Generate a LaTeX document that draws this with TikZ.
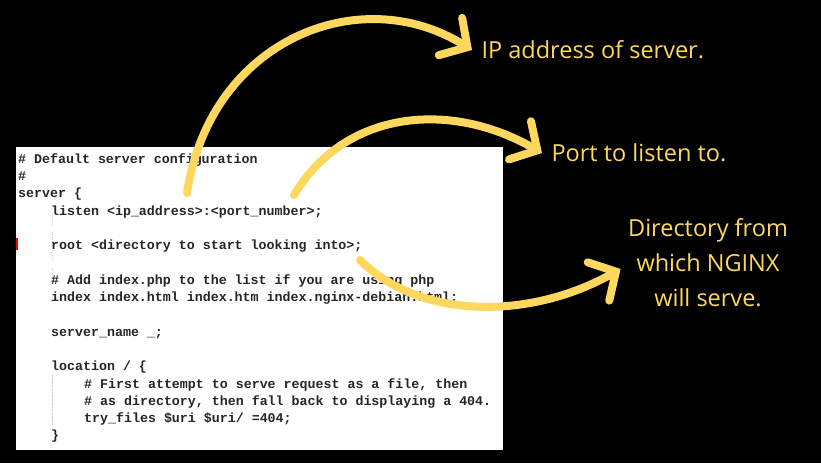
\documentclass[tikz,border=0pt]{standalone}
\usepackage{fontspec}
\setmainfont{Open Sans}
\newfontfamily\codefont{Liberation Mono}
\usetikzlibrary{arrows.meta}
\definecolor{ylw}{HTML}{FDD75E}
\begin{document}
\begin{tikzpicture}[x=1pt,y=-1pt,
  code/.style={anchor=base west,inner sep=0,font=\codefont\fontsize{13.3}{14}\selectfont\bfseries,text=black!85},
  lbl/.style={text=ylw,font=\fontsize{23.5}{35}\selectfont,align=center},
  arr/.style={draw=ylw,line width=8pt,line cap=round,-{Straight Barb[length=20pt,width=44pt,line cap=round]}}]
\fill[black] (0,0) rectangle (821,463);
\useasboundingbox (0,0) rectangle (821,463);
\fill[white] (16,147) rectangle (503,450);
\draw[red,line width=1.5pt] (17,238) -- (17,250);
\foreach \y in {214,232,250,268}{\draw[gray!40,dotted] (52,\y)--(52,\y+12);}
\draw[gray!40,densely dotted] (52,375)--(52,425);
\node[code] (l1) at (18,163) {\# Default server configuration};
\node[code] (l2) at (18,180) {\#};
\node[code] (l3) at (18,197) {server \{};
\node[code] (l4) at (51,215) {listen <ip\_address>:<port\_number>;};
\node[code] (l5) at (51,249) {root <directory to start looking into>;};
\node[code] (l6) at (51,284) {\# Add index.php to the list if you are using php};
\node[code] (l7) at (51,301) {index index.html index.htm index.nginx-debian.html;};
\node[code] (l8) at (51,336) {server\_name \_;};
\node[code] (l9) at (51,370) {location / \{};
\node[code] (l10) at (84,388) {\# First attempt to serve request as a file, then};
\node[code] (l11) at (84,405) {\# as directory, then fall back to displaying a 404.};
\node[code] (l12) at (84,422) {try\_files \$uri \$uri/ =404;};
\node[code] (l13) at (51,439) {\}};
\node[lbl,anchor=west] (ip) at (478,50) {IP address of server.};
\node[lbl,anchor=west] (port) at (548,153) {Port to listen to.};
\node[lbl] (dir) at (708,263) {Directory from\\which NGINX\\will serve.};
\coordinate (s1) at (187,193);
\coordinate (s2) at (294,195);
\coordinate (s3) at (360,260);
\draw[arr] (s1) .. controls (210,40) and (360,-20) .. ([xshift=-6pt]ip.west);
\draw[arr] (s2) .. controls (345,110) and (450,100) .. ([xshift=-6pt]port.west);
\draw[arr] (s3) .. controls (420,320) and (530,320) .. ([xshift=-4pt,yshift=-6pt]dir.north west|-dir.west);
\end{tikzpicture}
\end{document}
